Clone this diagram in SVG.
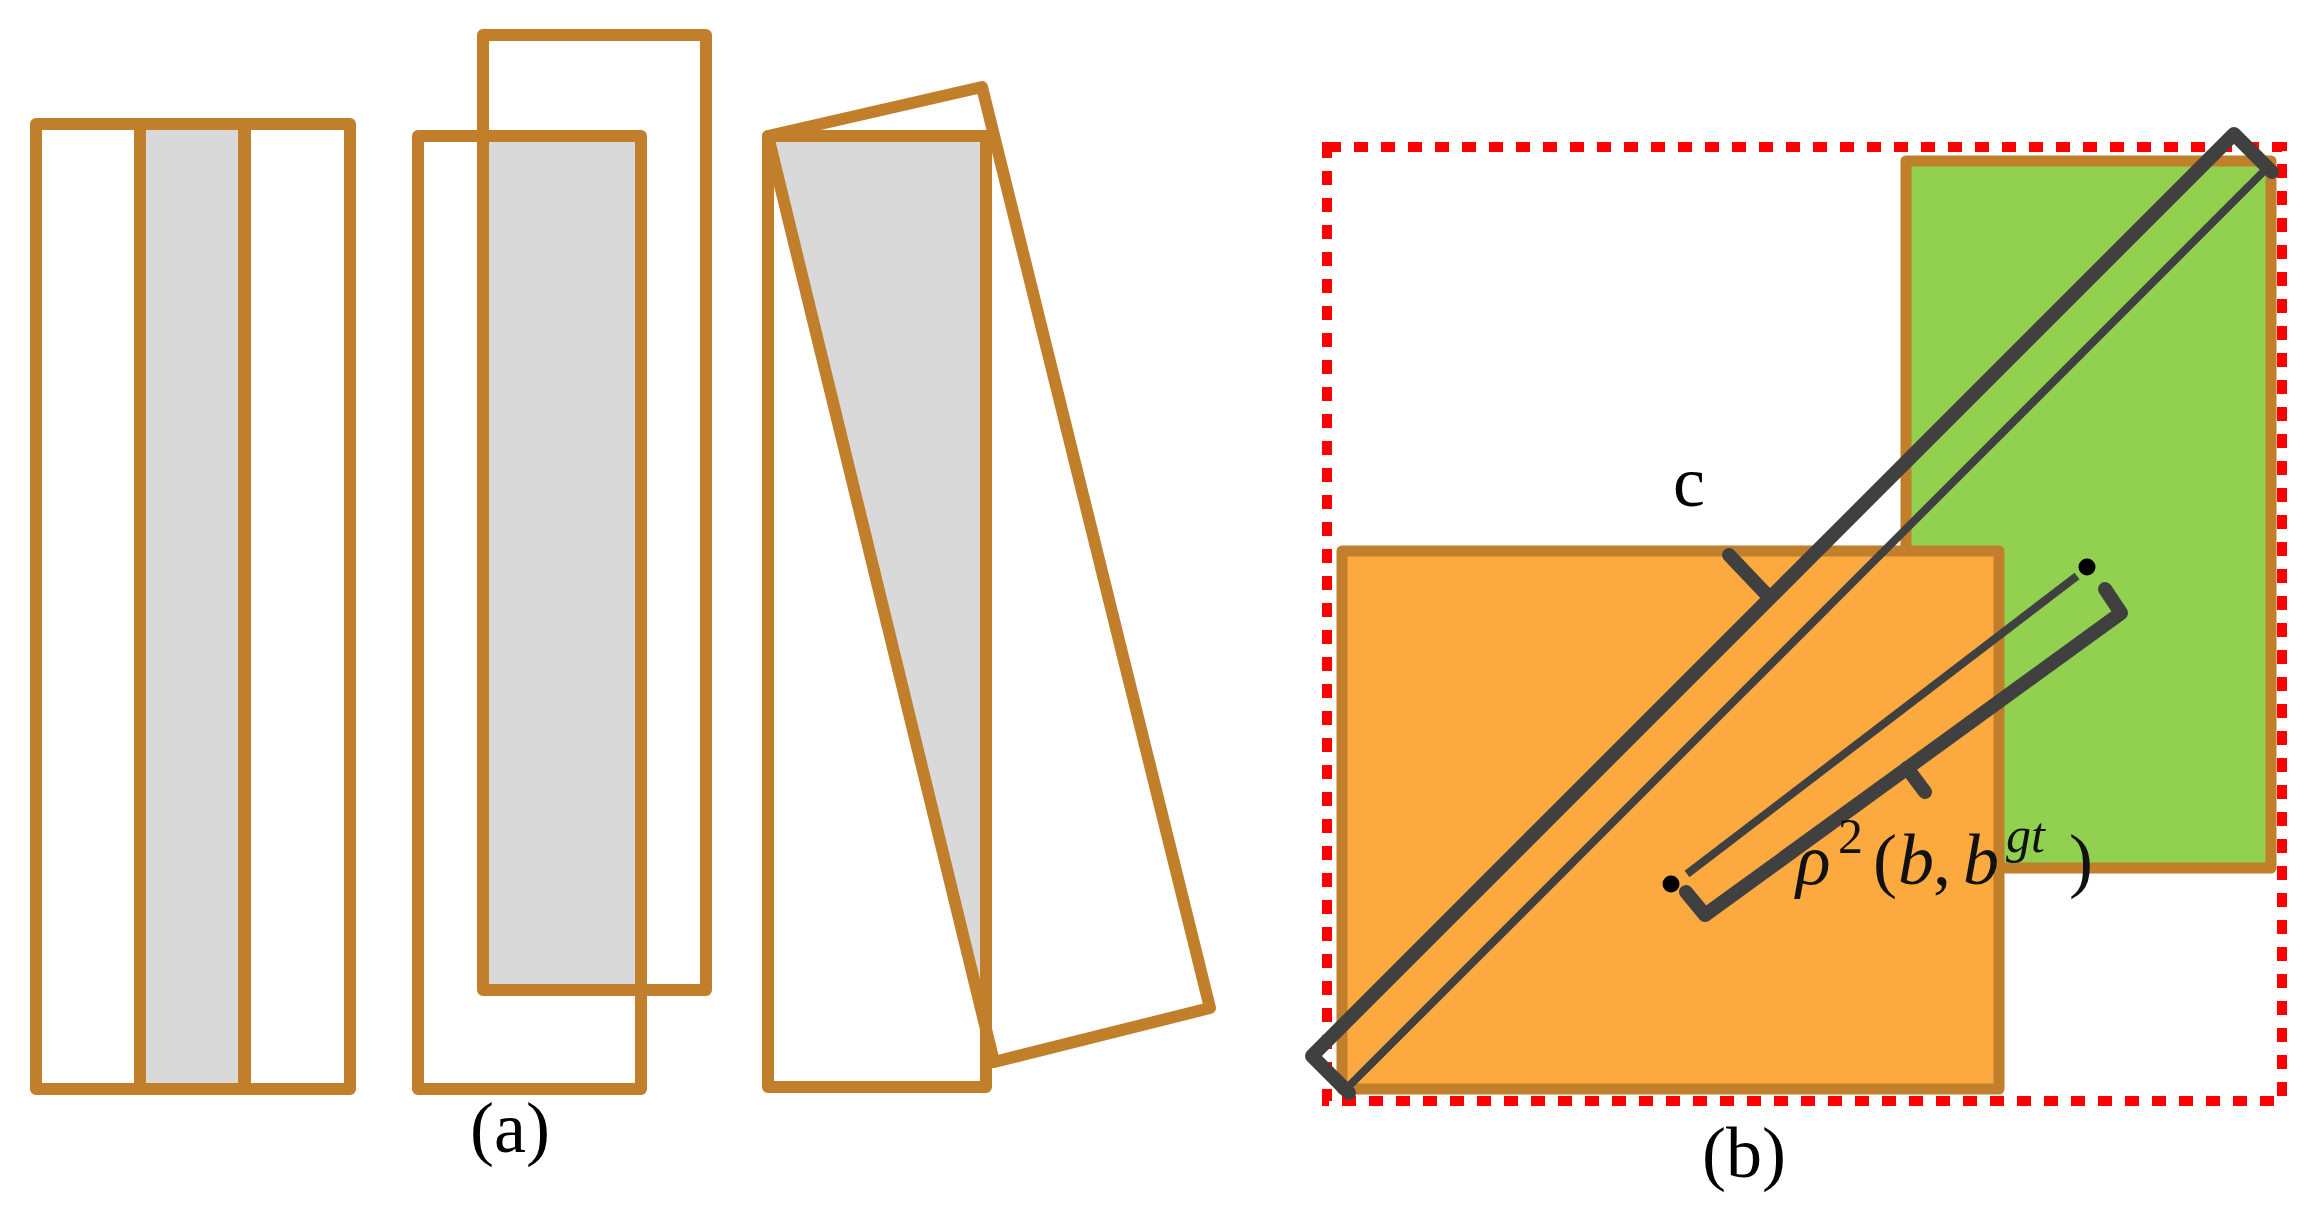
<svg xmlns="http://www.w3.org/2000/svg" width="2306" height="1208" viewBox="0 0 2306 1208">
<style>
.box{fill:none;stroke:#C17F2B;stroke-width:12;stroke-linejoin:round}
.gray{fill:#D9D9D9;stroke:none}
.thick{fill:none;stroke:#404040;stroke-width:14;stroke-linejoin:round;stroke-linecap:round}
.thin{fill:none;stroke:#404040;stroke-width:8;stroke-linecap:butt}
.lbl{font-family:"Liberation Serif","Times New Roman",serif;font-size:72px;fill:#000}
.math{font-family:"Liberation Serif","Times New Roman",serif;font-size:72px;fill:#111}
</style>
<rect width="2306" height="1208" fill="#fff"/>
<g id="panel-a">
  <g id="a-pair1">
    <rect class="gray" x="140" y="124" width="104" height="965"/>
    <rect class="box" x="36" y="124" width="208" height="965"/>
    <rect class="box" x="140" y="124" width="210" height="965"/>
    <line x1="246" y1="124" x2="246" y2="1089" stroke="#C17F2B" stroke-width="10"/>
  </g>
  <g id="a-pair2">
    <rect class="gray" x="483" y="136" width="158" height="854"/>
    <rect class="box" x="418" y="136" width="223" height="953"/>
    <rect class="box" x="483" y="35" width="223" height="955"/>
  </g>
  <g id="a-pair3">
    <polygon class="gray" points="768,136 986,136 986,1029"/>
    <rect class="box" x="768" y="136" width="218" height="951"/>
    <polygon class="box" points="768,136 982,87 1210,1008 994,1062"/>
  </g>
  <text id="label-a" class="lbl" x="510" y="1152" text-anchor="middle">(a)</text>
</g>
<g id="panel-b">
  <rect id="enclosing-box" x="1327" y="147" width="955" height="954" fill="none" stroke="#FF0000" stroke-width="10" stroke-dasharray="14 13"/>
  <rect id="gt-box" x="1906" y="161" width="365" height="707" fill="#92D050" stroke="#C17F2B" stroke-width="11" stroke-linejoin="round"/>
  <rect id="pred-box" x="1342" y="551" width="657" height="538" fill="#FCA93F" stroke="#C17F2B" stroke-width="11" stroke-linejoin="round"/>
  <g id="connectors">
    <line class="thin" x1="1350" y1="1085" x2="2263" y2="172"/>
    <polyline class="thick" points="1349,1093 1312,1056 1770,598 2234,134 2272,172"/>
    <line class="thick" x1="1768" y1="596" x2="1729" y2="555"/>
    <line class="thin" x1="1687" y1="874" x2="2077" y2="576"/>
    <polyline class="thick" points="1686,892 1705,915 2121,613 2105,589"/>
    <line class="thick" x1="1907" y1="768" x2="1925" y2="792"/>
  </g>
  <circle cx="1671" cy="884" r="8.5" fill="#000"/>
  <circle cx="2087" cy="567" r="8.5" fill="#000"/>
  <text id="label-c" class="lbl" x="1689" y="506" text-anchor="middle">c</text>
  <text id="label-rho" class="math"><tspan x="1796" y="884" font-style="italic">ρ</tspan><tspan x="1838" y="853" font-size="50">2</tspan><tspan x="1873" y="884">(</tspan><tspan x="1898" y="884" font-style="italic">b</tspan><tspan x="1933" y="884">,</tspan><tspan x="1963" y="884" font-style="italic">b</tspan><tspan x="2006" y="852" font-size="50" font-style="italic">gt</tspan><tspan x="2069" y="884">)</tspan></text>
  <text id="label-b" class="lbl" x="1744" y="1177" text-anchor="middle">(b)</text>
</g>
</svg>
